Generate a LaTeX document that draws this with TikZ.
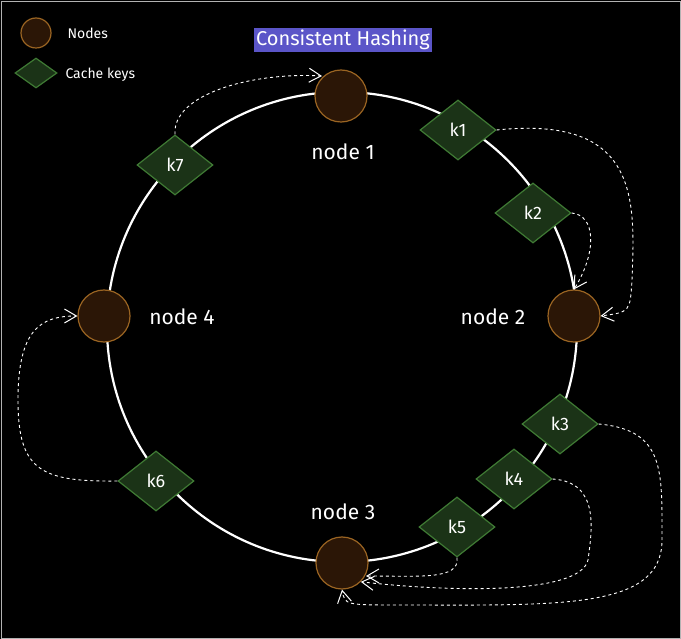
\documentclass[tikz,border=0pt]{standalone}
\usepackage{fontspec}
\setmainfont{Fira Sans}
\usetikzlibrary{shapes.geometric,arrows.meta}
\definecolor{nfill}{HTML}{2B1606}
\definecolor{nline}{HTML}{9A6422}
\definecolor{kfill}{HTML}{1B3317}
\definecolor{kline}{HTML}{3F7A34}
\definecolor{ttl}{HTML}{5B55C8}
\begin{document}
\begin{tikzpicture}[x=1pt,y=-1pt,
  nd/.style={circle,draw=nline,fill=nfill,line width=1.2pt,minimum size=52pt,inner sep=0pt},
  key/.style={diamond,draw=kline,fill=kfill,line width=1.2pt,minimum width=76pt,minimum height=60pt,inner sep=0pt,text=white,font=\fontsize{18}{18}\selectfont},
  lbl/.style={text=white,font=\fontsize{21}{21}\selectfont},
  arr/.style={draw=white,dashed,line width=0.9pt,-{Straight Barb[length=12pt,width=14pt,line width=1pt]}}]
\fill[black] (0,0) rectangle (681,639);
\draw[gray!60,line width=0.8pt] (1,1) rectangle (680,638);
\draw[white,line width=2.2pt] (342,327) circle[radius=235];
% legend
\node[nd,minimum size=30pt] (ln) at (36,33) {};
\node[text=white,font=\fontsize{14}{14}\selectfont,anchor=west] (lnt) at (64,33) {Nodes};
\node[key,minimum width=42pt,minimum height=30pt] (lk) at (36,73) {};
\node[text=white,font=\fontsize{14}{14}\selectfont,anchor=west] (lkt) at (62,75) {Cache keys};
\node[fill=ttl,text=white,font=\fontsize{20}{20}\selectfont,inner sep=2pt] (title) at (343,40) {Consistent Hashing};
% nodes
\node[nd] (n1) at (341,96) {};
\node[nd] (n2) at (574,316) {};
\node[nd] (n3) at (342,563) {};
\node[nd] (n4) at (104,316) {};
\node[lbl] (l1) at (343,152) {node 1};
\node[lbl] (l2) at (493,317) {node 2};
\node[lbl] (l3) at (343,512) {node 3};
\node[lbl] (l4) at (182,317) {node 4};
% keys
\node[key] (k1) at (458,130) {k1};
\node[key] (k2) at (533,213) {k2};
\node[key] (k3) at (560,424) {k3};
\node[key] (k4) at (514,479) {k4};
\node[key] (k5) at (457,527) {k5};
\node[key] (k6) at (156,481) {k6};
\node[key] (k7) at (175,165) {k7};
% arrows
\coordinate (e1) at (322,76);
\draw[arr] (k7.north) .. controls (172,95) and (250,72) .. (e1);
\draw[arr] (k1.east) .. controls (640,115) and (635,200) .. (632,280) .. controls (630,312) .. (n2.east);
\draw[arr] (k2.east) .. controls (595,215) and (598,250) .. (n2.north);
\draw[arr] (k3.east) .. controls (665,430) and (662,470) .. (662,540) .. controls (662,610) and (560,605) .. (400,605) .. controls (345,605) .. (n3.south);
\draw[arr] (k4.east) .. controls (600,482) and (592,530) .. (588,560) .. controls (580,595) and (450,592) .. (n3.south east);
\coordinate (e5) at (366,576);
\draw[arr] (k5.south) .. controls (460,580) and (420,576) .. (e5);
\draw[arr] (k6.west) .. controls (40,482) and (18,470) .. (18,400) .. controls (18,330) and (40,316) .. (n4.west);
\end{tikzpicture}
\end{document}
